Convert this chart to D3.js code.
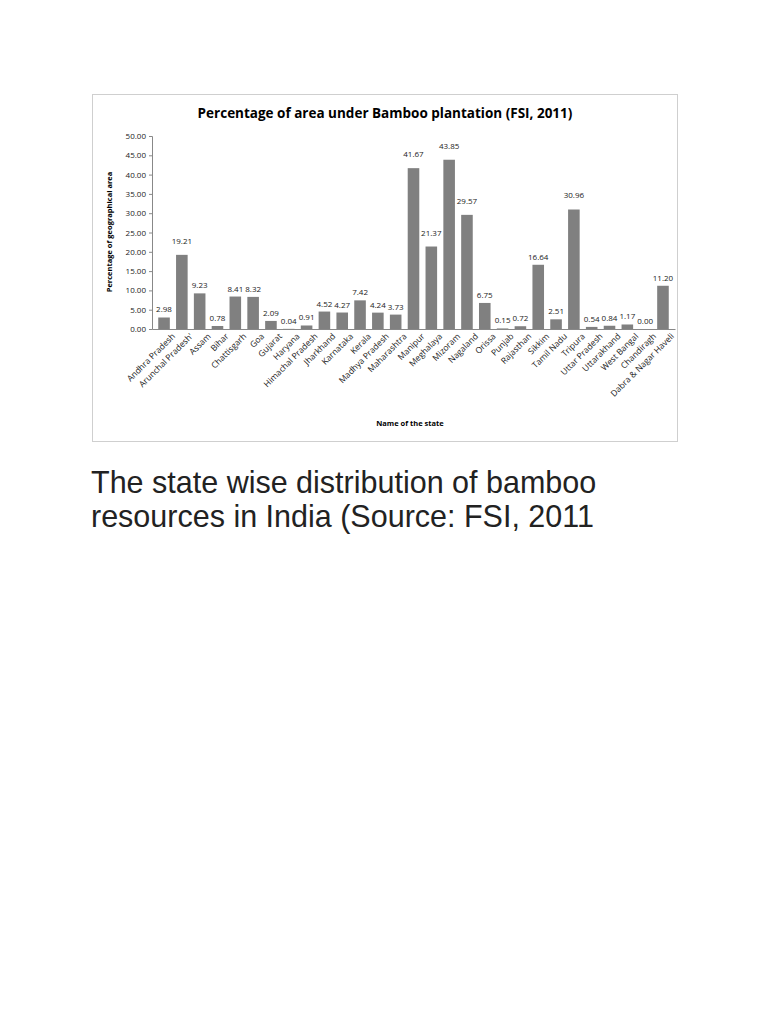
<!DOCTYPE html>
<html><head><meta charset="utf-8">
<script src="https://cdn.jsdelivr.net/npm/d3@7/dist/d3.min.js"></script>
<style>body{margin:0;background:#fff}</style></head>
<body><svg id="c" width="768" height="1024"></svg>
<script>
const states=["Andhra Pradesh","Arunchal Pradesh'","Assam","Bihar","Chattisgarh","Goa","Gujarat","Haryana","Himachal Pradesh","Jharkhand","Karnataka","Kerala","Madhya Pradesh","Maharashtra","Manipur","Meghalaya","Mizoram","Nagaland","Orissa","Punjab","Rajasthan","Sikkim","Tamil Nadu","Tripura","Uttar Pradesh","Uttarakhand","West Bangal","Chandiragh","Dabra & Nagar Haveli"];
const values=[2.98,19.21,9.23,0.78,8.41,8.32,2.09,0.04,0.91,4.52,4.27,7.42,4.24,3.73,41.67,21.37,43.85,29.57,6.75,0.15,0.72,16.64,2.51,30.96,0.54,0.84,1.17,0.00,11.20];
const yTicks=[0,5,10,15,20,25,30,35,40,45,50];
const svg=d3.select("#c");
const F="'Open Sans','Liberation Sans',sans-serif";
svg.append("rect").attr("x",92.5).attr("y",94.5).attr("width",585).attr("height",347).attr("fill","#fff").attr("stroke","#cfcfcf");
const x=d3.scaleBand().domain(states).range([152,675]).padding(0.35);
const y=d3.scaleLinear().domain([0,50]).range([329,136]);
const ya=svg.append("g").attr("transform","translate(152,0)").call(d3.axisLeft(y).tickValues(yTicks).tickFormat(d3.format(".2f")).tickSize(3));
ya.selectAll("text").attr("font-family",F).attr("font-size",8).attr("fill","#222");
ya.selectAll("line,path").attr("stroke","#888");
const xa=svg.append("g").attr("transform","translate(0,329)").call(d3.axisBottom(x).tickSize(0).tickFormat(d=>d));
xa.select("path").attr("stroke","#888");
xa.selectAll("text").attr("font-family",F).attr("font-size",8.5).attr("fill","#222")
 .attr("text-anchor","end").attr("x",0).attr("y",0).attr("dy","0.3em")
 .attr("transform",`translate(${x.bandwidth()/2+4},6) rotate(-45)`);
svg.append("g").selectAll("rect").data(values).join("rect")
 .attr("x",(d,i)=>x(states[i])).attr("width",x.bandwidth())
 .attr("y",d=>y(d)).attr("height",d=>y(0)-y(d)).attr("fill","#808080");
svg.append("g").selectAll("text").data(values).join("text")
 .attr("x",(d,i)=>x(states[i])+x.bandwidth()/2).attr("y",(d,i)=>y(d)-5-((i===1||i===15||i===17||i===23||i===16||i===14)?6:0))
 .attr("text-anchor","middle").attr("font-family",F).attr("font-size",8).attr("fill","#222").text(d=>d.toFixed(2));
svg.append("text").attr("x",385).attr("y",118).attr("text-anchor","middle").attr("font-family",F).attr("font-weight","bold").attr("font-size",13.5).text("Percentage of area under Bamboo plantation (FSI, 2011)");
svg.append("text").attr("transform","translate(112,232) rotate(-90)").attr("text-anchor","middle").attr("font-family",F).attr("font-weight","bold").attr("font-size",7.5).text("Percentage of geographical area");
svg.append("text").attr("x",410).attr("y",426).attr("text-anchor","middle").attr("font-family",F).attr("font-weight","bold").attr("font-size",7.5).text("Name of the state");
const cap=svg.append("text").attr("font-family","'Liberation Sans',Arial,sans-serif").attr("font-size",30.5).attr("fill","#222");
cap.append("tspan").attr("x",91).attr("y",493).text("The state wise distribution of bamboo");
cap.append("tspan").attr("x",91).attr("y",527).text("resources in India (Source: FSI, 2011");
</script></body></html>
